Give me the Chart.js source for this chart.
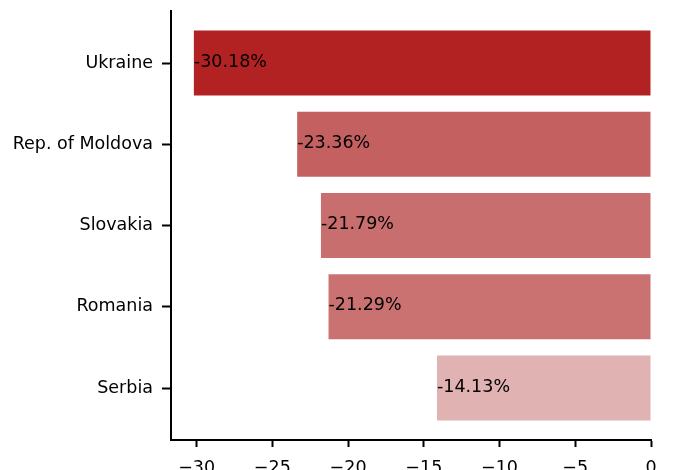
<!DOCTYPE html>
<html>
<head>
<meta charset="utf-8">
<script src="https://cdn.jsdelivr.net/npm/chart.js@4/dist/chart.umd.min.js"></script>
<style>
  html, body { margin: 0; padding: 0; background: #fff; overflow: hidden; }
  #wrap { width: 673px; height: 490px; }
</style>
</head>
<body>
<div id="wrap"><canvas id="chart"></canvas></div>
<script>
var countries = ['Ukraine', 'Rep. of Moldova', 'Slovakia', 'Romania', 'Serbia'];
var changes = [-30.18, -23.36, -21.79, -21.29, -14.13];
var barColors = ['#b22222', '#c46060', '#c86e6e', '#ca7272', '#e0b2b2'];
var xTicks = [-30, -25, -20, -15, -10, -5, 0];

var FONT = { family: 'DejaVu Sans', size: 17.5 };

// value labels at the left end of each bar
var valueLabels = {
  id: 'valueLabels',
  afterDatasetsDraw: function(chart) {
    var ctx = chart.ctx;
    var meta = chart.getDatasetMeta(0);
    ctx.save();
    ctx.font = FONT.size + 'px ' + FONT.family;
    ctx.fillStyle = '#000';
    ctx.textAlign = 'left';
    ctx.textBaseline = 'middle';
    meta.data.forEach(function(bar, i) {
      ctx.fillText(changes[i].toFixed(2) + '%', bar.x, bar.y - 1);
    });
    ctx.restore();
  }
};

var points = changes.map(function(v, i) { return { x: v, y: i }; });

new Chart(document.getElementById('chart'), {
  type: 'bar',
  data: {
    datasets: [{
      data: points,
      backgroundColor: barColors,
      borderWidth: 0,
      barPercentage: 0.8,
      categoryPercentage: 1
    }]
  },
  options: {
    indexAxis: 'y',
    responsive: true,
    maintainAspectRatio: false,
    animation: false,
    layout: { padding: { top: 11, right: 22, left: 0, bottom: 0 } },
    plugins: { legend: { display: false }, tooltip: { enabled: false } },
    scales: {
      x: {
        type: 'linear',
        min: -31.69,
        max: 0,
        afterBuildTicks: function(scale) {
          scale.ticks = xTicks.map(function(v) { return { value: v }; });
        },
        ticks: {
          font: FONT,
          color: '#000',
          padding: 11,
          maxRotation: 0,
          callback: function(v) { return v < 0 ? '\u2212' + Math.abs(v) : '' + v; }
        },
        grid: { drawOnChartArea: false, tickLength: 7, tickColor: '#000', tickWidth: 2 },
        border: { color: '#000', width: 2 },
        afterFit: function(scale) { scale.height = 50; }
      },
      y: {
        type: 'linear',
        reverse: true,
        offset: false,
        min: -0.64,
        max: 4.64,
        afterBuildTicks: function(scale) {
          scale.ticks = countries.map(function(c, i) { return { value: i }; });
        },
        ticks: {
          font: FONT,
          color: '#000',
          padding: 9,
          callback: function(v) { return countries[v]; }
        },
        grid: { offset: false, drawOnChartArea: false, tickLength: 9, tickColor: '#000', tickWidth: 2 },
        border: { color: '#000', width: 2 },
        afterFit: function(scale) {
          scale.width = 171;
          scale.paddingTop = 0;
          scale.paddingBottom = 0;
        }
      }
    }
  },
  plugins: [valueLabels]
});
</script>
</body>
</html>
